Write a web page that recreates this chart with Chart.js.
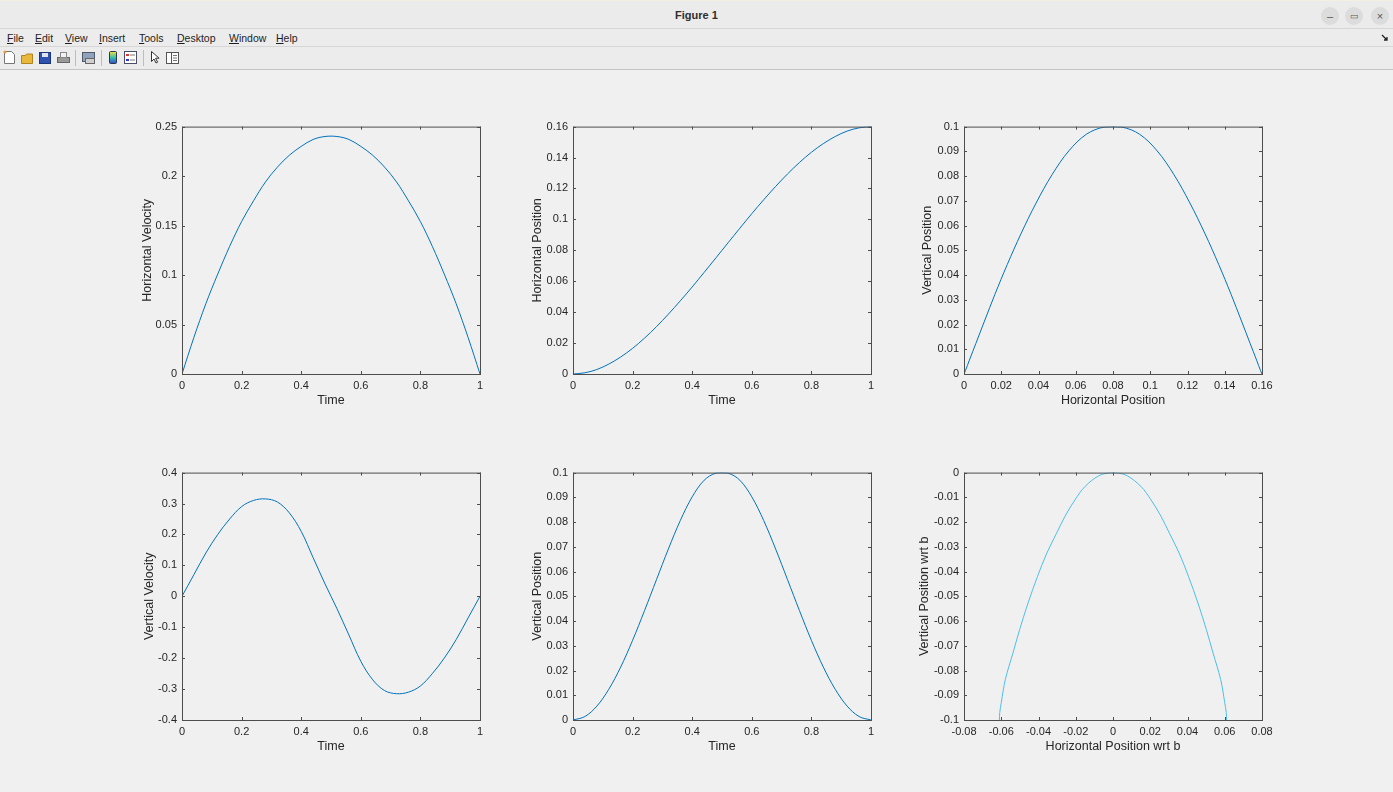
<!DOCTYPE html>
<html>
<head>
<meta charset="utf-8">
<title>Figure 1</title>
<script src="https://cdn.jsdelivr.net/npm/chart.js@4.4.1/dist/chart.umd.min.js"></script>
<style>
html, body { margin: 0; padding: 0; }
body { width: 1393px; height: 792px; background: #f0f0f0; position: relative; overflow: hidden; font-family: 'Liberation Sans', Arial, sans-serif; }
#titlebar { position: absolute; left: 0; top: 0; width: 1393px; height: 28px; background: #ebebeb; border-top: 1px solid #f3f0df; box-sizing: border-box; }
#titlebar .t { position: absolute; left: 0; right: 0; top: 8px; text-align: center; font-weight: bold; font-size: 11px; color: #2e2e2e; }
.wb { position: absolute; top: 6px; width: 18px; height: 18px; border-radius: 50%; background: #dcdcdc; color: #555; font-size: 11px; line-height: 18px; text-align: center; }
#menubar { position: absolute; left: 0; top: 28px; width: 1393px; height: 18px; background: #ececec; border-top: 1px solid #d6d6d6; }
#menubar span { position: absolute; top: 3px; font-size: 10.5px; color: #1e1e1e; }
#menubar u { text-decoration: underline; }
#toolbar { position: absolute; left: 0; top: 46px; width: 1393px; height: 22px; background: #ececec; border-top: 1px solid #d6d6d6; border-bottom: 1px solid #c4c4c4; }
.plot { position: absolute; width: 378px; height: 299px; }
</style>
</head>
<body>
<div id="titlebar">
  <div class="t">Figure 1</div>
  <div class="wb" style="left:1321px">&#8211;</div>
  <div class="wb" style="left:1345px;font-size:9px">&#9645;</div>
  <div class="wb" style="left:1371px">&#215;</div>
</div>
<div id="menubar">
  <span style="left:7px"><u>F</u>ile</span>
  <span style="left:35px"><u>E</u>dit</span>
  <span style="left:65px"><u>V</u>iew</span>
  <span style="left:99px"><u>I</u>nsert</span>
  <span style="left:139px"><u>T</u>ools</span>
  <span style="left:177px"><u>D</u>esktop</span>
  <span style="left:229px"><u>W</u>indow</span>
  <span style="left:276px"><u>H</u>elp</span>
  <svg style="position:absolute;left:1381px;top:5px" width="8" height="8"><path d="M1 1l5 5M3 6h3v-3" stroke="#222" stroke-width="1.3" fill="none"/></svg>
</div>
<div id="toolbar">
  <svg width="200" height="22">
    <defs>
      <linearGradient id="cb" x1="0" y1="0" x2="0" y2="1">
        <stop offset="0" stop-color="#f4e03a"/><stop offset="0.5" stop-color="#3ac0a8"/><stop offset="1" stop-color="#3548c8"/>
      </linearGradient>
    </defs>
    <path d="M4.5 4.5h7l3 3v9h-10z" fill="#fff" stroke="#777"/>
    <circle cx="5" cy="5" r="1.6" fill="#e49a3a"/>
    <path d="M21.5 8.5h4l1 -1.5h6v9.5h-11z" fill="#e9b73a" stroke="#b08420"/>
    <rect x="39.5" y="5.5" width="11" height="11" fill="#2d52b0" stroke="#1c3578"/>
    <rect x="42" y="6" width="6" height="4" fill="#dfe3ee"/>
    <rect x="57.5" y="10.5" width="12" height="5" fill="#9a9a9a" stroke="#666"/>
    <rect x="60.5" y="5.5" width="6" height="5" fill="#f2f2f2" stroke="#888"/>
    <line x1="75.5" y1="3" x2="75.5" y2="19" stroke="#bdbdbd"/>
    <rect x="82.5" y="5.5" width="12" height="9" fill="#8fa3bc" stroke="#4f5b6b"/>
    <rect x="85.5" y="11.5" width="9" height="5" fill="#cfcfcf" stroke="#666"/>
    <line x1="101.5" y1="3" x2="101.5" y2="19" stroke="#bdbdbd"/>
    <rect x="109.5" y="4.5" width="7" height="12" rx="1" fill="url(#cb)" stroke="#2a3550"/>
    <rect x="124.5" y="4.5" width="12" height="12" fill="#fff" stroke="#4a4f66"/>
    <rect x="126" y="7" width="3" height="2" fill="#d33"/>
    <rect x="126" y="12" width="3" height="2" fill="#33c"/>
    <line x1="130" y1="8" x2="135" y2="8" stroke="#777"/>
    <line x1="130" y1="13" x2="135" y2="13" stroke="#777"/>
    <line x1="143.5" y1="3" x2="143.5" y2="19" stroke="#bdbdbd"/>
    <path d="M151.5 4.5v10l2.5-2.5 2 4 1.6-.8-2-4h3.5z" fill="#fff" stroke="#333"/>
    <rect x="166.5" y="5.5" width="12" height="11" fill="#fff" stroke="#555"/>
    <line x1="171.5" y1="5.5" x2="171.5" y2="16.5" stroke="#555"/>
    <line x1="173" y1="8.5" x2="177" y2="8.5" stroke="#777"/>
    <line x1="173" y1="11" x2="177" y2="11" stroke="#777"/>
    <line x1="173" y1="13.5" x2="177" y2="13.5" stroke="#777"/>
  </svg>
</div>

<div class="plot"><canvas id="c1"></canvas></div>
<div class="plot"><canvas id="c2"></canvas></div>
<div class="plot"><canvas id="c3"></canvas></div>
<div class="plot"><canvas id="c4"></canvas></div>
<div class="plot"><canvas id="c5"></canvas></div>
<div class="plot"><canvas id="c6"></canvas></div>

<script>
const time = [0, 0.04, 0.08, 0.12, 0.16, 0.2, 0.24, 0.28, 0.32, 0.36, 0.4, 0.44, 0.48,
              0.52, 0.56, 0.6, 0.64, 0.68, 0.72, 0.76, 0.8, 0.84, 0.88, 0.92, 0.96, 1];
const horizVelocity = [0, 0.037, 0.071, 0.101, 0.129, 0.154, 0.175, 0.194, 0.209, 0.221, 0.230, 0.237, 0.240,
                       0.240, 0.237, 0.230, 0.221, 0.209, 0.194, 0.175, 0.154, 0.129, 0.101, 0.071, 0.037, 0];
const horizPosition = [0, 0.0008, 0.0029, 0.0064, 0.0110, 0.0166, 0.0232, 0.0306, 0.0387, 0.0473, 0.0563, 0.0657, 0.0752,
                       0.0848, 0.0943, 0.1037, 0.1127, 0.1213, 0.1294, 0.1368, 0.1434, 0.1490, 0.1536, 0.1571, 0.1592, 0.16];
const vertVelocity = [0, 0.07, 0.14, 0.20, 0.25, 0.29, 0.31, 0.315, 0.305, 0.27, 0.21, 0.125, 0.04,
                      -0.04, -0.125, -0.21, -0.27, -0.305, -0.315, -0.31, -0.29, -0.25, -0.20, -0.14, -0.07, 0];
const vertPosition = [0, 0.0014, 0.0056, 0.0124, 0.0214, 0.0322, 0.0442, 0.0567, 0.0691, 0.0806, 0.0902, 0.0969, 0.0998,
                      0.0998, 0.0969, 0.0902, 0.0806, 0.0691, 0.0567, 0.0442, 0.0322, 0.0214, 0.0124, 0.0056, 0.0014, 0];

// last panel: path relative to point b
const relHorizPosition = [-0.0610, -0.0608, -0.0600, -0.0578, -0.0537, -0.0501, -0.0456, -0.0405, -0.0355, -0.0303,
                          -0.0258, -0.0204, -0.0150, -0.0077, -0.0023, 0, 0.0023, 0.0077, 0.0150, 0.0204, 0.0258,
                          0.0303, 0.0355, 0.0405, 0.0456, 0.0501, 0.0537, 0.0578, 0.0600, 0.0608, 0.0610];
const relVertPosition = [-0.1, -0.097, -0.093, -0.0836, -0.0729, -0.0634, -0.0527, -0.0419, -0.0325, -0.0245,
                         -0.0177, -0.0110, -0.0056, -0.0013, -0.0001, 0, -0.0001, -0.0013, -0.0056, -0.0110, -0.0177,
                         -0.0245, -0.0325, -0.0419, -0.0527, -0.0634, -0.0729, -0.0836, -0.093, -0.097, -0.1];

// axis limits and tick steps [min, max, step]
const timeAxis = [0, 1, 0.2];
const horizVelAxis = [0, 0.25, 0.05];
const horizPosAxis = [0, 0.16, 0.02];
const vertVelAxis = [-0.4, 0.4, 0.1];
const vertPosAxis = [0, 0.1, 0.01];
const relHorizAxis = [-0.08, 0.08, 0.02];
const relVertAxis = [-0.1, 0, 0.01];

const BLUE = '#0072BD';
const LIGHT_BLUE = '#4DBEEE';
const INK = '#262626';
const AXIS_LINE = '#4d4d4d';

const subplots = [
  { id: 'c1', box: [182, 125], xs: time, ys: horizVelocity, xAxis: timeAxis, yAxis: horizVelAxis,
    xLabel: 'Time', yLabel: 'Horizontal Velocity', yPad: 18, color: BLUE },
  { id: 'c2', box: [573, 125], xs: time, ys: horizPosition, xAxis: timeAxis, yAxis: horizPosAxis,
    xLabel: 'Time', yLabel: 'Horizontal Position', yPad: 17, color: BLUE },
  { id: 'c3', box: [964, 125], xs: horizPosition, ys: vertPosition, xAxis: horizPosAxis, yAxis: vertPosAxis,
    xLabel: 'Horizontal Position', yLabel: 'Vertical Position', yPad: 16, color: BLUE },
  { id: 'c4', box: [182, 471], xs: time, ys: vertVelocity, xAxis: timeAxis, yAxis: vertVelAxis,
    xLabel: 'Time', yLabel: 'Vertical Velocity', yPad: 20, color: BLUE },
  { id: 'c5', box: [573, 471], xs: time, ys: vertPosition, xAxis: timeAxis, yAxis: vertPosAxis,
    xLabel: 'Time', yLabel: 'Vertical Position', yPad: 17, color: BLUE },
  { id: 'c6', box: [964, 471], xs: relHorizPosition, ys: relVertPosition, xAxis: relHorizAxis, yAxis: relVertAxis,
    xLabel: 'Horizontal Position wrt b', yLabel: 'Vertical Position wrt b', yPad: 13, color: LIGHT_BLUE }
];

Chart.defaults.font.family = "'Liberation Sans', Arial, sans-serif";
Chart.defaults.font.size = 11;
Chart.defaults.color = INK;

// matlab style tick text: 0, 0.05, 0.1 ...
const fmt = v => String(+Number(v).toFixed(4));

// box round the axes with inward ticks on all four sides
const boxPlugin = {
  id: 'matlabBox',
  afterDatasetsDraw(chart) {
    const { ctx, chartArea: a, scales: { x, y } } = chart;
    const len = 3;
    ctx.save();
    ctx.strokeStyle = AXIS_LINE;
    ctx.lineWidth = 1;
    ctx.beginPath();
    x.ticks.forEach(t => {
      const px = Math.round(x.getPixelForValue(t.value)) + 0.5;
      ctx.moveTo(px, a.bottom); ctx.lineTo(px, a.bottom - len);
      ctx.moveTo(px, a.top); ctx.lineTo(px, a.top + len);
    });
    y.ticks.forEach(t => {
      const py = Math.round(y.getPixelForValue(t.value)) + 0.5;
      ctx.moveTo(a.left, py); ctx.lineTo(a.left + len, py);
      ctx.moveTo(a.right, py); ctx.lineTo(a.right - len, py);
    });
    ctx.stroke();
    ctx.strokeRect(a.left + 0.5, a.top + 0.5, a.right - a.left, a.bottom - a.top);
    ctx.restore();
  }
};

subplots.forEach(p => {
  const holder = document.getElementById(p.id).parentNode;
  holder.style.left = (p.box[0] - 60) + 'px';
  holder.style.top = (p.box[1] - 10) + 'px';

  new Chart(document.getElementById(p.id), {
    type: 'scatter',
    data: {
      datasets: [{
        data: p.xs.map((v, i) => ({ x: v, y: p.ys[i] })),
        showLine: true,
        borderColor: p.color,
        borderWidth: 1,
        pointRadius: 0,
        tension: 0.35
      }]
    },
    options: {
      responsive: true,
      maintainAspectRatio: false,
      animation: false,
      events: [],
      layout: { padding: { left: 0, top: 10, right: 20, bottom: 0 } },
      plugins: { legend: { display: false }, tooltip: { enabled: false } },
      scales: {
        x: {
          type: 'linear',
          min: p.xAxis[0],
          max: p.xAxis[1],
          grid: { display: false, drawTicks: false },
          border: { display: false },
          ticks: { stepSize: p.xAxis[2], callback: fmt, padding: 5, autoSkip: false, maxRotation: 0, color: INK },
          title: { display: true, text: p.xLabel, color: INK, font: { size: 12.5 }, padding: { top: 0, bottom: 6 } },
          afterFit: s => { s.height = 40; }
        },
        y: {
          type: 'linear',
          min: p.yAxis[0],
          max: p.yAxis[1],
          grid: { display: false, drawTicks: false },
          border: { display: false },
          ticks: { stepSize: p.yAxis[2], callback: fmt, padding: 5, autoSkip: false, color: INK },
          title: { display: true, text: p.yLabel, color: INK, font: { size: 12.5 }, padding: { top: p.yPad, bottom: 0 } },
          afterFit: s => { s.width = 60; }
        }
      }
    },
    plugins: [boxPlugin]
  });
});
</script>
</body>
</html>
